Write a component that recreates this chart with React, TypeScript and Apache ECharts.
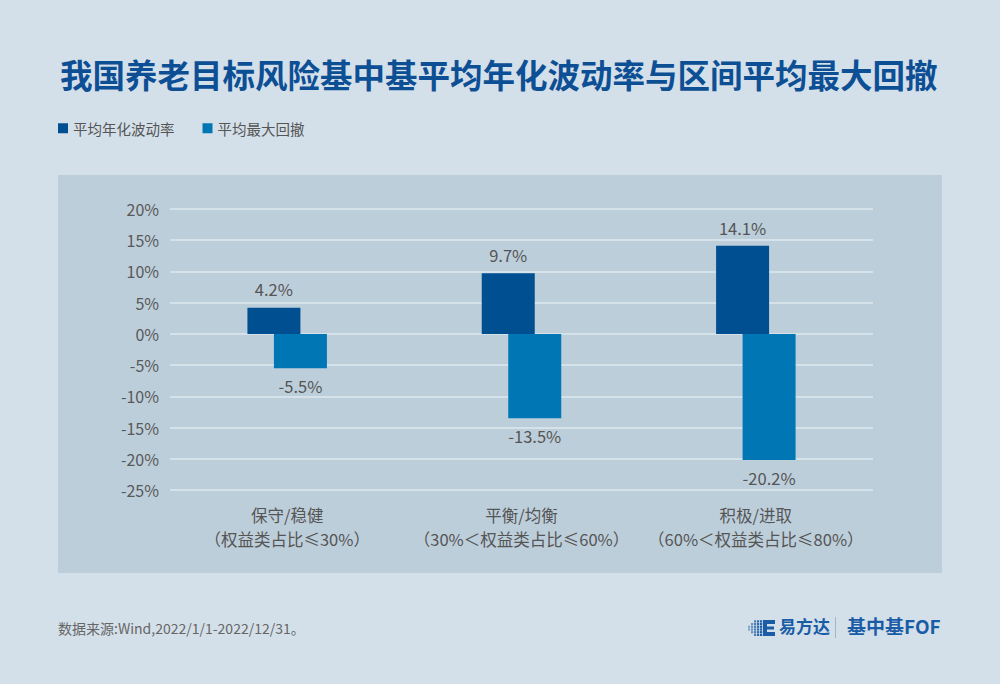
import React, { useEffect, useRef } from "react";
import * as echarts from "echarts";

// Fund categories (two-line axis labels)
const categories = [
  "保守/稳健\n（权益类占比≤30%）",
  "平衡/均衡\n（30%＜权益类占比≤60%）",
  "积极/进取\n（60%＜权益类占比≤80%）",
];
// Average annualised volatility, %
const volatility = [4.2, 9.7, 14.1];
// Average maximum drawdown over the period, %
const maxDrawdown = [-5.5, -13.5, -20.2];
const seriesNames = ["平均年化波动率", "平均最大回撤"];

// Value axis range, %
const yMin = -25;
const yMax = 20;
const yStep = 5;

const FONT = '"Noto Sans CJK SC", "Noto Sans", sans-serif';
const DARK = "#004f91";
const LIGHT = "#0077b4";
const BRAND = "#1a5ca6";

function logoIcon(x0: number, y0: number) {
  const parts: any[] = [];
  // block "E"
  parts.push({ type: "rect", shape: { x: x0 + 14, y: y0, width: 4, height: 16 }, style: { fill: BRAND } });
  parts.push({ type: "rect", shape: { x: x0 + 14, y: y0, width: 12, height: 4 }, style: { fill: BRAND } });
  parts.push({ type: "rect", shape: { x: x0 + 14, y: y0 + 6.5, width: 11, height: 3 }, style: { fill: BRAND } });
  parts.push({ type: "rect", shape: { x: x0 + 14, y: y0 + 12, width: 12, height: 4 }, style: { fill: BRAND } });
  // dotted fade to the left of the E
  const cols = [
    { dx: 11, rows: [0, 1, 2, 3, 4, 5], op: 1 },
    { dx: 8, rows: [0, 1, 2, 3, 4, 5], op: 0.9 },
    { dx: 5, rows: [0, 1, 2, 3, 4, 5], op: 0.75 },
    { dx: 2, rows: [1, 2, 3, 4], op: 0.6 },
    { dx: -1, rows: [2, 3], op: 0.45 },
  ];
  cols.forEach((c) => {
    c.rows.forEach((r) => {
      parts.push({
        type: "rect",
        shape: { x: x0 + c.dx, y: y0 + 0.3 + r * 2.7, width: 2.2, height: 2.2 },
        style: { fill: BRAND, opacity: c.op },
      });
    });
  });
  return parts;
}

export default function App() {
  const ref = useRef<HTMLDivElement>(null);

  useEffect(() => {
    if (!ref.current) return;
    const chart = echarts.init(ref.current, undefined, { renderer: "svg" });
    const pct = (p: any) => `${Number(p.value).toFixed(1)}%`;

    chart.setOption({
      animation: false,
      backgroundColor: "#d4e0e9",
      textStyle: { fontFamily: FONT },
      title: {
        text: "我国养老目标风险基中基平均年化波动率与区间平均最大回撤",
        left: 55,
        top: 52,
        textStyle: { fontSize: 32.5, fontWeight: "bold", color: "#0d4f95", fontFamily: FONT },
      },
      legend: {
        left: 53,
        top: 116,
        icon: "rect",
        itemWidth: 10,
        itemHeight: 10,
        itemGap: 28,
        data: seriesNames,
        textStyle: { fontSize: 14.5, color: "#555", fontFamily: FONT },
      },
      grid: { left: 170, right: 127, top: 209, bottom: 194, containLabel: false },
      xAxis: {
        type: "category",
        data: categories,
        axisLine: { show: false },
        axisTick: { show: false },
        axisLabel: {
          margin: 13,
          fontSize: 16.5,
          lineHeight: 24,
          color: "#555",
          fontFamily: FONT,
          interval: 0,
        },
      },
      yAxis: {
        type: "value",
        min: yMin,
        max: yMax,
        interval: yStep,
        axisLine: { show: false },
        axisTick: { show: false },
        axisLabel: {
          formatter: "{value}%",
          margin: 11,
          fontSize: 16,
          color: "#595959",
          fontFamily: FONT,
        },
        splitLine: { lineStyle: { color: "#dfe8ef", width: 1.5 } },
      },
      series: [
        {
          name: seriesNames[0],
          type: "bar",
          data: volatility,
          barWidth: 53,
          barGap: "-50%",
          itemStyle: { color: DARK },
          label: {
            show: true,
            position: "top",
            distance: 10,
            formatter: pct,
            fontSize: 16.5,
            color: "#555",
            fontFamily: FONT,
          },
        },
        {
          name: seriesNames[1],
          type: "bar",
          data: maxDrawdown,
          barWidth: 53,
          barGap: "-50%",
          itemStyle: { color: LIGHT },
          label: {
            show: true,
            position: "bottom",
            distance: 10,
            formatter: pct,
            fontSize: 16.5,
            color: "#555",
            fontFamily: FONT,
          },
        },
      ],
      graphic: [
        {
          type: "rect",
          z: -10,
          shape: { x: 58, y: 175, width: 884, height: 398 },
          style: { fill: "#bdcedb" },
          silent: true,
        },
        {
          type: "text",
          x: 58,
          y: 621,
          style: {
            text: "数据来源:Wind,2022/1/1-2022/12/31。",
            fontSize: 14,
            fill: "#666",
            fontFamily: FONT,
          },
        },
        {
          type: "group",
          children: [
            ...logoIcon(749, 620),
            {
              type: "text",
              x: 779,
              y: 617,
              style: { text: "易方达", fontSize: 17, fontWeight: "bold", fill: BRAND, fontFamily: FONT },
            },
            {
              type: "line",
              shape: { x1: 835.5, y1: 617, x2: 835.5, y2: 638 },
              style: { stroke: "#9fb7cc", lineWidth: 1 },
            },
            {
              type: "text",
              x: 847,
              y: 616,
              style: { text: "基中基FOF", fontSize: 19, fontWeight: "bold", fill: BRAND, fontFamily: FONT },
            },
          ],
        },
      ],
    });

    return () => chart.dispose();
  }, []);

  return (
    <div
      ref={ref}
      style={{ position: "absolute", left: 0, top: 0, width: 1000, height: 684 }}
    />
  );
}
